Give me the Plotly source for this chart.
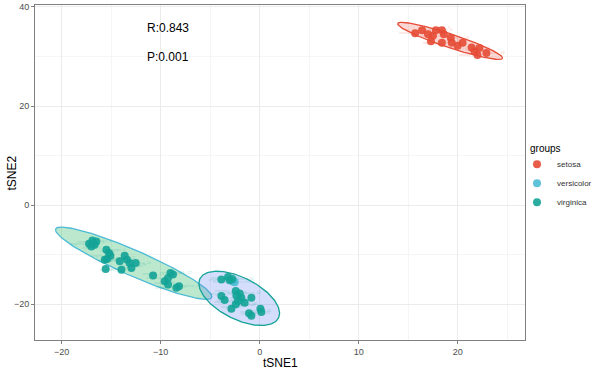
import numpy as np
import plotly.graph_objects as go

# ---------------- data ----------------
groups = ["setosa", "versicolor", "virginica"]
group_colors = {"setosa": "#E64B35", "versicolor": "#4DBBD5", "virginica": "#13A397"}

setosa_x = [15.7, 16.4, 17.0, 17.3, 17.5, 17.8, 18.4, 18.6, 18.4, 19.3, 19.4, 20.0, 20.5, 21.4, 21.7, 22.2, 22.0, 22.9]
setosa_y = [34.7, 35.3, 34.5, 33.1, 34.2, 35.3, 35.3, 34.5, 32.8, 33.8, 32.8, 32.2, 32.8, 31.8, 31.0, 31.7, 30.3, 30.7]

versicolor_x = [-2.53, -2.70]
versicolor_y = [-15.53, -15.40]

virginica_x = [-17.24, -16.9, -16.67, -17.0, -16.5, -15.49, -15.22, -15.42, -15.08, -15.66,
               -14.14, -13.64, -13.4, -13.13, -12.96, -12.53, -13.97, -15.56, -10.77, -9.6,
               -9.26, -9.02, -8.76, -9.26, -8.42, -8.15,
               -3.87, -3.2, -3.03, -2.76, -3.87, -3.54, -2.42, -2.02, -2.36, -1.85,
               -2.19, -2.42, -2.86, -1.52, -0.84, -1.08, -0.84, 0.07, 0.17]
virginica_y = [-7.8, -7.13, -8.0, -8.33, -7.33, -9.0, -9.67, -10.87, -10.2, -11.0,
               -11.33, -10.2, -11.0, -11.67, -12.67, -11.67, -13.0, -12.87, -14.2, -15.33,
               -14.67, -13.67, -14.0, -16.0, -16.67, -16.33,
               -15.0, -14.47, -15.13, -14.87, -18.33, -19.13, -17.33, -17.8, -18.2, -18.67,
               -19.33, -20.0, -20.87, -19.67, -18.67, -21.8, -22.33, -20.87, -21.53]

# ellipse parameters: centre, semi-major vector, semi-minor vector (data units)
ell_names = ["setosa", "lower_left", "lower_mid"]
ell_cx = [19.24, -12.73, -2.07]
ell_cy = [33.16, -11.7, -18.8]
ell_ax = [5.30, 7.88, 3.96]
ell_ay = [-3.50, -6.90, -4.00]
ell_bx = [-0.22, -0.52, -0.963]
ell_by = [-1.30, -2.35, -3.74]
ell_fill = ["rgba(230,75,53,0.22)", "rgba(60,190,110,0.34)", "rgba(90,125,240,0.26)"]
ell_line = ["#E64B35", "#4DBBD5", "#13A397"]

stat_labels = ["R:0.843", "P:0.001"]
stat_x = [-11.6, -11.6]
stat_y = [35.8, 30.0]

x_ticks = [-20, -10, 0, 10, 20]
y_ticks = [-20, 0, 20, 40]

# ---------------- figure ----------------
fig = go.Figure()

t = np.linspace(0, 2 * np.pi, 200)
for i in range(len(ell_names)):
    ex = ell_cx[i] + ell_ax[i] * np.cos(t) + ell_bx[i] * np.sin(t)
    ey = ell_cy[i] + ell_ay[i] * np.cos(t) + ell_by[i] * np.sin(t)
    fig.add_trace(go.Scatter(x=ex, y=ey, mode="lines", fill="toself",
                             fillcolor=ell_fill[i], line=dict(color=ell_line[i], width=1.3),
                             showlegend=False, hoverinfo="skip"))

pts = {"setosa": (setosa_x, setosa_y), "versicolor": (versicolor_x, versicolor_y),
       "virginica": (virginica_x, virginica_y)}

# faint sample labels
for g in groups:
    xs, ys = pts[g]
    names = [f"{g}_{k + 1}" for k in range(len(xs))]
    pos = ["middle left", "middle right", "top center", "bottom center"]
    fig.add_trace(go.Scatter(x=xs, y=ys, mode="text", text=names,
                             textposition=[pos[k % 4] for k in range(len(xs))],
                             textfont=dict(size=4, color=group_colors[g]),
                             opacity=0.3, showlegend=False, hoverinfo="skip"))

for g in groups:
    xs, ys = pts[g]
    fig.add_trace(go.Scatter(x=xs, y=ys, mode="markers", name=g,
                             marker=dict(size=8, color=group_colors[g], opacity=0.9,
                                         line=dict(width=0))))

for lab, sx, sy in zip(stat_labels, stat_x, stat_y):
    fig.add_annotation(x=sx, y=sy, text=lab, showarrow=False, xanchor="left",
                       yanchor="middle", font=dict(size=12, color="black"))

# axis titles and legend title placed as paper annotations
fig.add_annotation(x=0.5, y=-0.068, xref="paper", yref="paper", text="tSNE1",
                   showarrow=False, xanchor="center", yanchor="middle",
                   font=dict(size=12, color="black"))
fig.add_annotation(x=-0.047, y=0.5, xref="paper", yref="paper", text="tSNE2",
                   showarrow=False, xanchor="center", yanchor="middle", textangle=-90,
                   font=dict(size=12, color="black"))
fig.add_annotation(x=1.006, y=0.573, xref="paper", yref="paper", text="groups",
                   showarrow=False, xanchor="left", yanchor="middle",
                   font=dict(size=10, color="black"))

axis_common = dict(showline=True, linecolor="#7f7f7f", linewidth=1, mirror=True,
                   ticks="outside", ticklen=3, tickcolor="#7f7f7f",
                   tickfont=dict(size=9, color="#4d4d4d"), automargin=False,
                   showgrid=True, gridcolor="#EBEBEB", gridwidth=1, zeroline=False)

fig.update_xaxes(range=[-22.7, 26.8], tickvals=x_ticks,
                 minor=dict(dtick=5, tick0=0, showgrid=True, gridcolor="#F5F5F5", ticks=""),
                 **axis_common)
fig.update_yaxes(range=[-27.2, 40.4], tickvals=y_ticks,
                 minor=dict(dtick=10, tick0=0, showgrid=True, gridcolor="#F5F5F5", ticks=""),
                 **axis_common)

fig.update_layout(
    width=600, height=371,
    margin=dict(l=35, r=75, t=5, b=31, autoexpand=False),
    paper_bgcolor="white", plot_bgcolor="white",
    font=dict(family="Liberation Sans, Arial, sans-serif"),
    legend=dict(font=dict(size=8, color="#333333"), bgcolor="rgba(0,0,0,0)",
                x=0.9837, xanchor="left", y=0.468, yanchor="middle",
                itemsizing="trace", itemwidth=30, tracegroupgap=0),
)

fig.write_html("out.html", config={"displayModeBar": False},
               post_script="document.body.style.margin='0';")
